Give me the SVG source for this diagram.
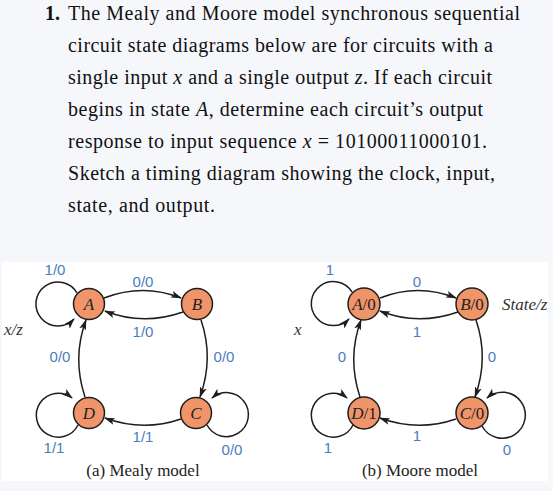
<svg xmlns="http://www.w3.org/2000/svg" width="553" height="491" viewBox="0 0 553 491">
<style>
.q{font-family:"Liberation Serif","DejaVu Serif",serif;font-size:20px;fill:#111}
.i{font-style:italic}
.node circle{fill:#f0956a;stroke:#1e1e1e;stroke-width:1.5}
.node text{font-family:"Liberation Serif",serif;font-size:17px;fill:#222;text-anchor:middle}
.lbl{font-family:"Liberation Sans",Arial,sans-serif;font-size:15px;fill:#4a7ebd;text-anchor:middle}
.cap{font-family:"Liberation Serif",serif;font-size:17px;fill:#222;text-anchor:middle}
.note{font-family:"Liberation Serif",serif;font-size:17px;font-style:italic;fill:#333}
#connectors path{fill:none;stroke:#1e1e1e;stroke-width:1.5;marker-end:url(#ah)}
</style>
<defs>
<marker id="ah" markerUnits="userSpaceOnUse" markerWidth="11" markerHeight="8" refX="10" refY="4" orient="auto">
<path d="M0,0.5 L11,4 L0,7.5 L2.5,4 z" fill="#1e1e1e"/>
</marker>
</defs>
<rect width="553" height="491" fill="#f6f7fb"/>
<rect x="2" y="262" width="546" height="219" fill="#ffffff"/>

<g id="question">
<text class="q" x="45" y="20" font-weight="bold">1.</text>
<text class="q" x="68" y="20" textLength="452">The Mealy and Moore model synchronous sequential</text>
<text class="q" x="68" y="52" textLength="425">circuit state diagrams below are for circuits with a</text>
<text class="q" x="68" y="84" textLength="424">single input <tspan class="i">x</tspan> and a single output <tspan class="i">z</tspan>. If each circuit</text>
<text class="q" x="68" y="116" textLength="415">begins in state <tspan class="i">A</tspan>, determine each circuit’s output</text>
<text class="q" x="68" y="148" textLength="419">response to input sequence <tspan class="i">x</tspan> = 10100011000101.</text>
<text class="q" x="68" y="180" textLength="427">Sketch a timing diagram showing the clock, input,</text>
<text class="q" x="68" y="212" textLength="147">state, and output.</text>
</g>

<g id="connectors">
<!-- Mealy -->
<path d="M104,298 Q143,283 181,298"/>
<path d="M183,312 Q143,326 105,311"/>
<path d="M201,320 Q214,358 200,397"/>
<path d="M181,419 Q143,432 105,418"/>
<path d="M85,397 Q72,358 86,320"/>
<path d="M77,293 A22 22 0 1 0 74,319"/>
<path d="M78,425 A22 22 0 1 1 72,398"/>
<path d="M207,425 A22 22 0 1 0 212,398"/>
<!-- Moore -->
<path d="M380,298 Q418,283 456,298"/>
<path d="M458,312 Q418,326 380,311"/>
<path d="M476,320 Q489,358 475,397"/>
<path d="M456,419 Q418,432 380,418"/>
<path d="M360,397 Q347,358 361,320"/>
<path d="M352,292 A22 22 0 1 0 349,319"/>
<path d="M353,425 A22 22 0 1 1 347,398"/>
<path d="M482,426 A23 23 0 1 0 487,398"/>
</g>

<g id="labels">
<text class="lbl" x="55" y="275">1/0</text>
<text class="lbl" x="143" y="287">0/0</text>
<text class="lbl" x="143" y="337">1/0</text>
<text class="lbl" x="224" y="362">0/0</text>
<text class="lbl" x="60" y="362">0/0</text>
<text class="lbl" x="143" y="442">1/1</text>
<text class="lbl" x="54" y="453">1/1</text>
<text class="lbl" x="232" y="455">0/0</text>
<text class="note" x="4" y="335">x/z</text>
<text class="cap" x="143" y="476">(a) Mealy model</text>

<text class="lbl" x="330" y="275">1</text>
<text class="lbl" x="417" y="287">0</text>
<text class="lbl" x="417" y="337">1</text>
<text class="lbl" x="492" y="362">0</text>
<text class="lbl" x="342" y="362">0</text>
<text class="lbl" x="417" y="441">1</text>
<text class="lbl" x="328" y="453">1</text>
<text class="lbl" x="507" y="455">0</text>
<text class="note" x="294" y="335">x</text>
<text class="note" x="502" y="310">State/z</text>
<text class="cap" x="420" y="476">(b) Moore model</text>
</g>

<g id="mealyA" class="node"><circle cx="89" cy="304" r="15.5"/><text x="89" y="310" class="i">A</text></g>
<g id="mealyB" class="node"><circle cx="197" cy="304" r="15.5"/><text x="197" y="310" class="i">B</text></g>
<g id="mealyC" class="node"><circle cx="196" cy="413" r="15.5"/><text x="196" y="419" class="i">C</text></g>
<g id="mealyD" class="node"><circle cx="89" cy="413" r="15.5"/><text x="89" y="419" class="i">D</text></g>

<g id="mooreA" class="node"><circle cx="364" cy="304" r="16"/><text x="364" y="310"><tspan class="i">A</tspan>/0</text></g>
<g id="mooreB" class="node"><circle cx="472" cy="304" r="16"/><text x="472" y="310"><tspan class="i">B</tspan>/0</text></g>
<g id="mooreC" class="node"><circle cx="472" cy="413" r="16"/><text x="472" y="419"><tspan class="i">C</tspan>/0</text></g>
<g id="mooreD" class="node"><circle cx="364" cy="413" r="16"/><text x="364" y="419"><tspan class="i">D</tspan>/1</text></g>
</svg>
